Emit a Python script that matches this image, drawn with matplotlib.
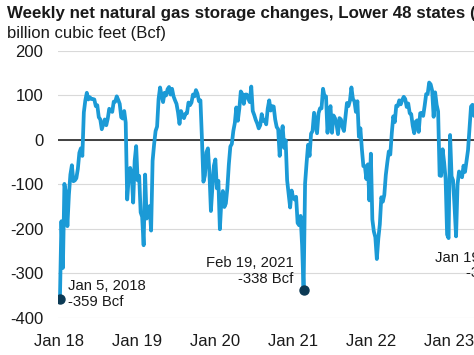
import matplotlib
matplotlib.use("Agg")
import matplotlib.pyplot as plt
import pandas as pd

plt.rcParams['font.family'] = ['Liberation Sans', 'DejaVu Sans']
plt.rcParams['axes.unicode_minus'] = False

# Weekly net storage change (Bcf), weeks ending Friday, starting Jan 5, 2018
start_week = '2018-01-05'
v2018 = [-359, -183, -288, -99, -119, -194, -124, -78, -57, -93, -91, -86, -65,
         -29, -19, -36, 62, 89, 106, 91, 96, 92, 92, 91, 76, 78, 51, 46, 24, 35,
         46, 33, 48, 70, 65, 63, 86, 86, 98, 90, 81, 51, 48, 65, 39, -134, -86,
         -63, -77, -141, -47, -14]
v2019 = [-91, -81, -163, -173, -237, -78, -177, -166, -149, -204, -47, -10, 20,
         30, 92, 118, 100, 85, 106, 100, 114, 119, 102, 115, 98, 89, 81, 62, 36,
         65, 55, 49, 59, 60, 84, 78, 84, 102, 98, 112, 104, 87, 89, 3, -94, -80,
         -28, -19, -73, -160, -107, -58]
v2020 = [-44, -109, -92, -201, -137, -115, -151, -143, -109, -55, -15, -9, 20,
         38, 73, 43, 70, 109, 103, 81, 102, 102, 93, 85, 120, 65, 56, 45, 37, 26,
         33, 58, 43, 45, 35, 70, 89, 66, 76, 75, 46, 29, 24, -36, 8, 31, -18, -1,
         -91, -122, -152, -114]
v2021 = [-130, -134, -128, -187, -192, -171, -237, -338, -98, -52, -11, -36, 14,
         20, 61, 38, 15, 60, 71, 71, 115, 98, 98, 16, 55, 76, 16, 55, 49, 36, 13,
         49, 46, 29, 20, 52, 83, 76, 88, 118, 92, 87, 63, 87, 7, 26, -21, -59,
         -59, -88, -55, -136, -31]
v2022 = [-179, -206, -219, -268, -222, -190, -129, -139, -124, -79, -51, -26,
         -33, 15, 53, 40, 77, 76, 89, 80, 90, 97, 92, 74, 82, 60, 58, 32, 15, 41,
         44, 18, 60, 61, 54, 77, 103, 103, 129, 125, 111, 52, 107, 79, 64, -80,
         -81, -21, -50, -87, -213, -221]
v2023 = [11, -82, -91, -151, -217, -100, -71, -81, -84, -58, -72, -47, -23, 25,
         75, 79, 54, 78]

values = v2018 + v2019 + v2020 + v2021 + v2022 + v2023
dates = pd.date_range(start_week, periods=len(values), freq='7D')

# Highlighted weeks
ann_dates = pd.to_datetime(['2018-01-05', '2021-02-19', '2024-01-19'])
ann_values = [-359, -338, -326]
ann_labels = ['Jan 5, 2018\n-359 Bcf', 'Feb 19, 2021\n-338 Bcf', 'Jan 19, 2024\n-326 Bcf']

tick_dates = pd.to_datetime(['2018-01-01', '2019-01-01', '2020-01-01',
                             '2021-01-01', '2022-01-01', '2023-01-01', '2024-01-01'])
tick_labels = ['Jan 18', 'Jan 19', 'Jan 20', 'Jan 21', 'Jan 22', 'Jan 23', 'Jan 24']
y_ticks = [-400, -300, -200, -100, 0, 100, 200]

W, H = 474, 355
fig = plt.figure(figsize=(W / 100, H / 100), dpi=100)
ax = fig.add_axes([58 / W, (H - 317.7) / H, 1 - 58 / W, (317.7 - 51) / H])

blue = '#1b9ad6'
navy = '#0c3a55'
text_c = '#1a1a1a'

ax.plot(dates, values, color=blue, lw=2.7, solid_joinstyle='round', zorder=3)
ax.axhline(0, color='#333333', lw=1.3, zorder=2)
ax.scatter(ann_dates, ann_values, s=42, color=navy, zorder=4, clip_on=True)

offsets = [(6, 4), (-7, 14), (-7, 14)]
has = ['left', 'right', 'right']
for d, v, lab, off, ha in zip(ann_dates, ann_values, ann_labels, offsets, has):
    ax.annotate(lab, xy=(d, v), xytext=off, textcoords='offset points',
                ha=ha, va='center', multialignment=ha, fontsize=10.7,
                color=text_c, linespacing=1.15, annotation_clip=False)

ax.set_ylim(-400, 200)
ax.set_yticks(y_ticks)
ax.set_xticks(tick_dates)
ax.set_xticklabels(tick_labels)
ax.set_xlim(pd.Timestamp('2017-12-27'), pd.Timestamp('2023-04-28'))

ax.grid(axis='y', color='#d9d9d9', lw=0.8, zorder=1)
ax.set_axisbelow(True)
for s in ax.spines.values():
    s.set_visible(False)
ax.tick_params(axis='both', length=0, labelsize=12, colors=text_c)
ax.tick_params(axis='y', pad=10.5)
ax.tick_params(axis='x', pad=11.5)

fig.text(7 / W, (H - 18.3) / H,
         'Weekly net natural gas storage changes, Lower 48 states (Jan 2018–Jan 2024)',
         fontsize=12.2, fontweight='bold', color=text_c, ha='left', va='baseline')
fig.text(7 / W, (H - 37.7) / H, 'billion cubic feet (Bcf)',
         fontsize=12, color=text_c, ha='left', va='baseline')

fig.savefig('out.png', dpi=100)
